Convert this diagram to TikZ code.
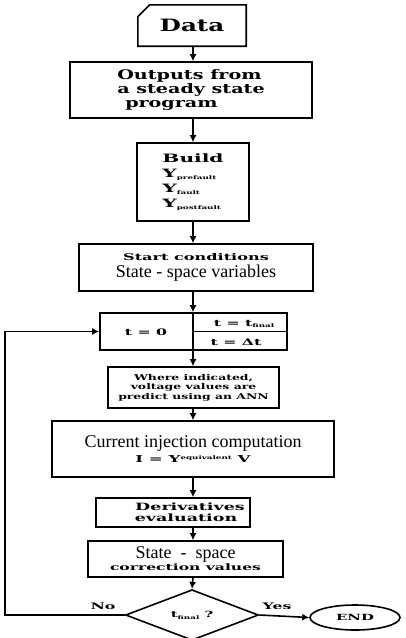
\documentclass[tikz,border=0pt]{standalone}
\usepackage{fontspec}
\setmainfont{Liberation Serif}
\newfontfamily\wbA{DejaVu Serif Bold}[FakeStretch=1.75]
\newfontfamily\wbC{DejaVu Serif Bold}[FakeStretch=1.55]
\newfontfamily\wbD{DejaVu Serif Bold}[FakeStretch=1.45]
\usetikzlibrary{shapes.geometric,arrows.meta,calc}
\newcommand{\lowsub}[2][-1.8pt]{\raisebox{#1}{\wbA\fontsize{5}{5}\selectfont #2}}
\begin{document}
\begin{tikzpicture}[x=1pt,y=-1pt,
  box/.style={draw,line width=1.6pt,inner sep=0pt,align=center},
  arr/.style={line width=1.6pt,-{Latex[length=7pt,width=7pt]}},
  ln/.style={line width=1.6pt}]
\useasboundingbox (0,0) rectangle (406,638);
\coordinate (spine) at (193,0);
% Data
\node[inner sep=0pt,minimum width=108pt,minimum height=41pt,font=\wbD\fontsize{17}{17}\selectfont] (data) at (192,25.5) {Data};
\draw[ln] (data.south west) -- ($(data.north west)+(0,12)$) -- ($(data.north west)+(12,0)$) -- (data.north east) -- (data.south east) -- cycle;
% Outputs
\node[box,minimum width=242pt,minimum height=56pt,align=left,font=\wbD\fontsize{13.2}{14.2}\selectfont] (out) at (191,90)
  {Outputs from\\ a steady state\\ \hspace{8pt}program};
% Build
\node[box,minimum width=112pt,minimum height=78pt,align=left,font=\wbA\fontsize{11.5}{15}\selectfont] (build) at (193,182)
  {Build\\ Y\lowsub{prefault}\\ Y\lowsub{fault}\\ Y\lowsub{postfault}};
% Start conditions
\node[box,minimum width=234pt,minimum height=47pt] (start) at (196,267.5)
  {{\wbA\fontsize{9.2}{11}\selectfont Start conditions}\\[4pt]{\fontsize{18}{18}\selectfont State - space variables}};
% t box
\node[box,minimum width=187pt,minimum height=37pt] (tbox) at (193.5,331.5) {};
\node[font=\wbA\fontsize{9}{9}\selectfont] (t0) at (146,332) {t = 0};
\node[font=\wbA\fontsize{9}{9}\selectfont] (tf) at (244,324) {t = t\lowsub{final}};
\node[font=\wbA\fontsize{9}{9}\selectfont] (tdt) at (236,342) {t = Δt};
\draw[ln] (spine |- tbox.west) -- (tbox.east);
% Where indicated
\node[box,minimum width=171pt,minimum height=41pt,font=\wbC\fontsize{8}{9.6}\selectfont] (where) at (193.5,387.5)
  {Where indicated,\\ voltage values are\\ predict using an ANN};
% Current injection
\node[box,minimum width=282pt,minimum height=56pt] (cur) at (193,449)
  {{\fontsize{18}{18}\selectfont Current injection computation}\\[3pt]
   {\wbA\fontsize{9.5}{10}\selectfont I = Y\raisebox{3pt}{\fontsize{5}{5}\selectfont equivalent} V}};
% Derivatives
\node[box,minimum width=154pt,minimum height=29pt] (der) at (173,512.5) {};
\node[align=center,inner sep=0pt,font=\wbA\fontsize{10}{11.5}\selectfont] (dertxt) at (190,512.5)
  {Derivatives\\ \hspace{-8pt}evaluation};
% Correction
\node[box,minimum width=195pt,minimum height=36pt] (corr) at (185.5,559)
  {{\fontsize{18}{18}\selectfont State ~-~ space}\\[0pt]{\wbA\fontsize{8.9}{11}\selectfont correction values}};
% Decision
\node[draw,diamond,line width=1.6pt,minimum width=133pt,minimum height=44pt,inner sep=0pt,font=\wbA\fontsize{8.5}{9}\selectfont] (dec) at (192,615)
  {t\lowsub{final} ?};
\node[draw,ellipse,line width=1.6pt,minimum width=90pt,minimum height=25pt,inner sep=0pt,font=\wbA\fontsize{8.5}{8.5}\selectfont] (end) at (355,617.5)
  {END};
\node[font=\wbA\fontsize{9}{9}\selectfont] (no) at (103,606) {No};
\node[font=\wbA\fontsize{9}{9}\selectfont] (yes) at (277,606) {Yes};
\coordinate (lb) at (5,615);
% arrows
\draw[arr] (data.south -| spine) -- (out.north -| spine);
\draw[arr] (out.south -| spine) -- (build.north -| spine);
\draw[arr] (build.south -| spine) -- (start.north -| spine);
\draw[arr] (start.south -| spine) -- (tbox.north -| spine);
\draw[arr] (tbox.north -| spine) -- (where.north -| spine);
\draw[arr] (where.south -| spine) -- (cur.north -| spine);
\draw[arr] (cur.south -| spine) -- (der.north -| spine);
\draw[arr] (der.south -| spine) -- (corr.north -| spine);
\draw[arr] (corr.south -| spine) -- (dec.north);
\draw[arr] (dec.east) -- (end.west);
\draw[arr] (dec.west) -- (lb) -- (lb |- tbox.west) -- (tbox.west);
\end{tikzpicture}
\end{document}
